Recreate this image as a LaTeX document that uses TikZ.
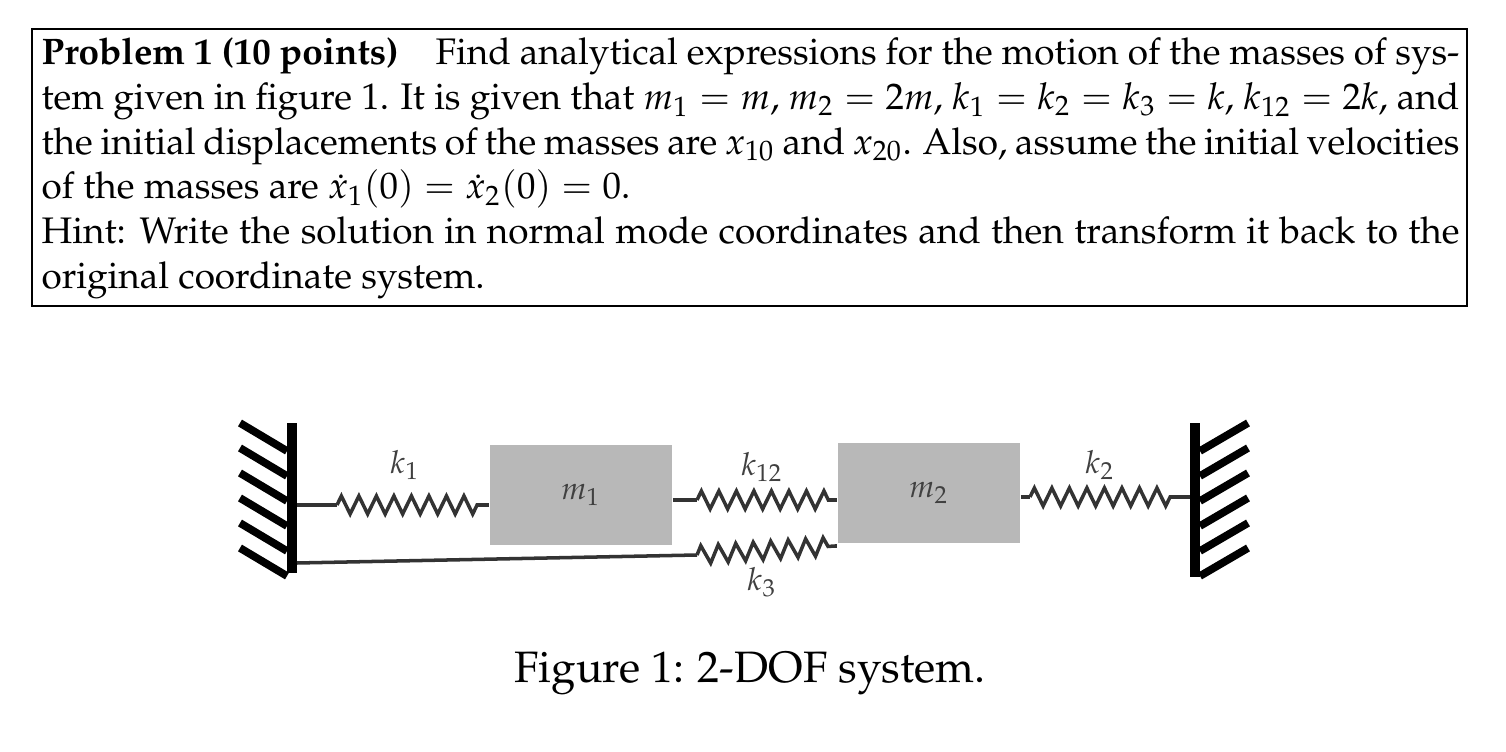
\documentclass[tikz,border=0pt]{standalone}
\usepackage[T1]{fontenc}
\usepackage{mathpazo}
\usetikzlibrary{decorations.pathmorphing}
\newcommand\fullline[1]{\makebox[14.17cm][s]{#1}}
\begin{document}
\begin{tikzpicture}[x=0.01cm,y=-0.01cm,
  lnk/.style={line width=1pt,black!80},
  zz/.style={lnk,decorate,decoration={zigzag,segment length=0.175cm,amplitude=0.09cm}},
  hat/.style={line width=2.2pt},
  lab/.style={font=\fontsize{9}{10}\selectfont,text=black!75}]
\useasboundingbox (0,0) rectangle (1506,752);
% text box
\draw[line width=0.6pt] (32,29) rectangle (1467,306);
\node[anchor=north west,inner sep=0,align=left,font=\fontsize{10.5}{12.75}\selectfont] (txt) at (41,37)
{\fullline{\textbf{Problem 1 (10 points)}\quad Find analytical expressions for the motion of the masses of sys-}\\
\fullline{tem given in figure 1. It is given that $m_1=m$, $m_2=2m$, $k_1=k_2=k_3=k$, $k_{12}=2k$, and}\\
\fullline{the initial displacements of the masses are $x_{10}$ and $x_{20}$. Also, assume the initial velocities}\\
of the masses are $\dot x_1(0)=\dot x_2(0)=0$.\\
\fullline{Hint: Write the solution in normal mode coordinates and then transform it back to the}\\
original coordinate system.};
% walls
\fill (287,423) rectangle (297,573);
\fill (1190,423) rectangle (1200,577);
\foreach \y in {425,450,475,500,525,550}{
  \draw[hat] (240,\y-2) -- (287,\y+26);
  \draw[hat] (1200,\y+26) -- (1248,\y-2);}
\coordinate (wl) at (297,505);
\coordinate (wl3) at (297,563);
\coordinate (wr) at (1190,497);
% masses
\node[fill=black!28,minimum width=1.82cm,minimum height=1cm,inner sep=0] (m1) at (581,495) {};
\node[fill=black!28,minimum width=1.82cm,minimum height=1cm,inner sep=0] (m2) at (929,493) {};
\node[lab] at (m1) {$m_1$};
\node[lab] at (m2) {$m_2$};
% springs
\coordinate (a1) at (337,505); \coordinate (b1) at (478,505);
\draw[lnk] (wl) -- (a1);
\draw[zz] (a1) -- (b1);
\draw[lnk] (b1) -- (m1.west |- b1);
\coordinate (a2) at (697,500); \coordinate (b2) at (835,500);
\draw[lnk] (m1.east |- a2) -- (a2);
\draw[zz] (a2) -- (b2);
\draw[lnk] (b2) -- (m2.west |- b2);
\coordinate (a3) at (1030,497); \coordinate (b3) at (1172,497);
\draw[lnk] (m2.east |- a3) -- (a3);
\draw[zz] (a3) -- (b3);
\draw[lnk] (b3) -- (wr);
\coordinate (a4) at (697,555); \coordinate (b4) at (835,546);
\draw[lnk] (wl3) -- (a4);
\draw[zz] (a4) -- (b4);
\draw[lnk] (b4) -- (m2.west |- b4);
\node[lab] at (405,465) {$k_1$};
\node[lab] at (762,467) {$k_{12}$};
\node[lab] at (1100,465) {$k_2$};
\node[lab] at (762,582) {$k_3$};
\node[font=\fontsize{12.5}{14}\selectfont] (cap) at (750,673) {Figure 1: 2-DOF system.};
\end{tikzpicture}
\end{document}
